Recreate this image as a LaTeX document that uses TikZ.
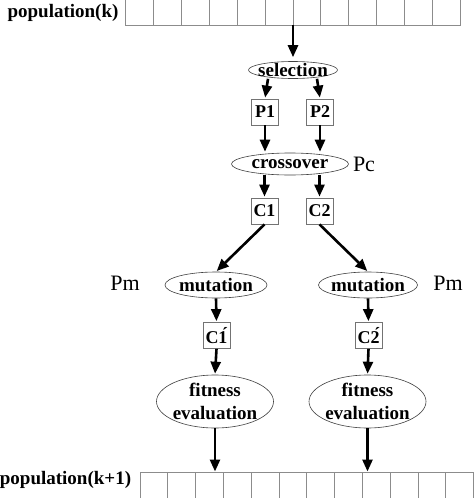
\documentclass[tikz,border=0pt]{standalone}
\usepackage{fontspec}
\setmainfont{Liberation Serif}
\usetikzlibrary{arrows.meta,shapes.geometric}

\tikzset{
  fleche/.style={line width=2.6pt,-{Triangle[width=10pt,length=12pt]},shorten >=1pt},
  ovale/.style={ellipse,draw=black!75,line width=0.6pt,inner sep=0pt},
  etiq/.style={font=\bfseries\fontsize{19}{23}\selectfont,align=center,inner sep=0pt},
  boite/.style={rectangle,draw=black!55,line width=0.8pt,inner sep=0pt,
    minimum width=27pt,minimum height=26pt,font=\bfseries\fontsize{18}{18}\selectfont},
  proba/.style={font=\fontsize{22}{22}\selectfont,inner sep=0pt},
  case/.style={draw=black!45,line width=0.7pt}
}

\begin{document}
\begin{tikzpicture}[x=1pt,y=-1pt]  % ------ croisement et mutation --------------
    \useasboundingbox (0,0) rectangle (474,498);

    % populations
    \foreach \i in {0,...,11} \draw[case] (125.7+\i*27.86,-1) rectangle ++(27.86,26);
    \foreach \i in {0,...,11} \draw[case] (140+\i*27.8,472.5) rectangle ++(27.8,30);
    \node[etiq] (popk) at (63,13) {population(k)};
    \node[etiq] (popkk) at (65.5,480) {population(k+1)};
    \coordinate (Hk) at (293,25);
    \coordinate (Bk) at (0,472.5);

    % selection et croisement
    \node[ovale,minimum width=89pt,minimum height=17pt,label={[etiq]center:selection}] (sel) at (293,70) {};
    \node[boite] (P1) at (265,112) {P1};
    \node[boite] (P2) at (320,112) {P2};
    \node[ovale,minimum width=117pt,minimum height=22pt,label={[etiq]center:crossover}] (cross) at (290,164) {};
    \node[proba] (Pc) at (364,164) {Pc};
    \node[boite] (C1) at (264.5,211) {C1};
    \node[boite] (C2) at (319.5,211) {C2};

    % mutation et evaluation
    \node[ovale,minimum width=102pt,minimum height=26pt,label={[etiq]center:mutation}] (mutA) at (216,285) {};
    \node[ovale,minimum width=99pt,minimum height=26pt,label={[etiq]center:mutation}] (mutB) at (368,285) {};
    \node[proba] (PmA) at (125,283) {Pm};
    \node[proba] (PmB) at (448,283) {Pm};
    \node[boite] (C1p) at (216.5,335.5) {C\'{1}};
    \node[boite] (C2p) at (368.5,335.5) {C\'{2}};
    \node[ovale,minimum width=117pt,minimum height=53pt,label={[etiq]center:fitness\\evaluation}] (fitA) at (215,401.5) {};
    \node[ovale,minimum width=117pt,minimum height=53pt,label={[etiq]center:fitness\\evaluation}] (fitB) at (367.5,401.5) {};

    \draw[fleche,shorten >=4pt] (Hk) -- (sel);
    \draw[fleche] ([xshift=-25pt]sel.south) -- (P1.north);
    \draw[fleche] ([xshift=24pt]sel.south) -- (P2.north);
    \draw[fleche] (P1.south) -- (P1 |- cross.north);
    \draw[fleche] (P2.south) -- (P2 |- cross.north);
    \draw[fleche] (C1 |- cross.south) -- (C1.north);
    \draw[fleche] (C2 |- cross.south) -- (C2.north);
    \draw[fleche] (C1.south) -- (mutA.north);
    \draw[fleche] (C2.south) -- (mutB.north);
    \draw[fleche] (mutA.south) -- (C1p.north);
    \draw[fleche] (mutB.south) -- (C2p.north);
    \draw[fleche] (C1p.south) -- (fitA.north);
    \draw[fleche] (C2p.south) -- (fitB.north);
    \draw[fleche] (fitA.south) -- (fitA.south |- Bk);
    \draw[fleche] (fitB.south) -- (fitB.south |- Bk);
\end{tikzpicture}
\end{document}
